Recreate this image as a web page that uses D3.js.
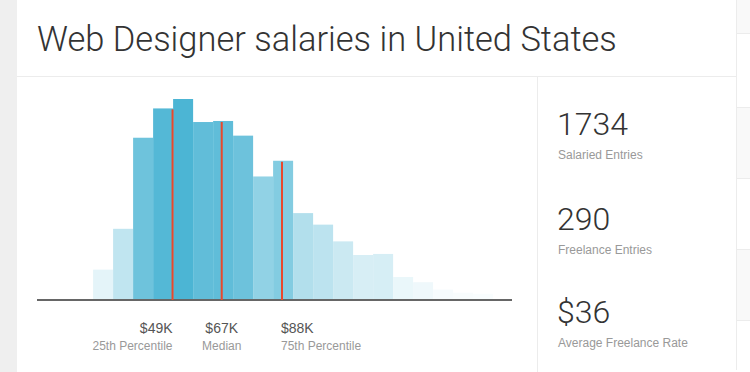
<!DOCTYPE html>
<html>
<head>
<meta charset="utf-8">
<script src="https://cdn.jsdelivr.net/npm/d3@7"></script>
<style>
  html, body { margin: 0; padding: 0; background: #fff; }
  svg { display: block; }
</style>
</head>
<body>
<svg id="chart" width="750" height="372"></svg>
<script>
// ---- data ----
const title = "Web Designer salaries in United States";
const binStartK = 20.2;          // lower edge of first salary bin ($K)
const binWidthK = 7.2;           // width of each salary bin ($K)
const counts = [29, 68, 155, 183, 192, 170, 171, 157, 118, 133, 83, 72, 56, 43, 44, 22, 17, 10, 7, 6];
const percentileValues = [48.8, 66.5, 88.2];
const percentileText = ["$49K", "$67K", "$88K"];
const percentileNames = ["25th Percentile", "Median", "75th Percentile"];
const statValues = ["1734", "290", "$36"];
const statLabels = ["Salaried Entries", "Freelance Entries", "Average Freelance Rate"];

// ---- layout chrome ----
const svg = d3.select("#chart");
const W = 750, H = 372;
svg.append("rect").attr("x", 0).attr("y", 0).attr("width", W).attr("height", H).attr("fill", "#ffffff");
svg.append("rect").attr("x", 0).attr("y", 0).attr("width", 17).attr("height", H).attr("fill", "#efefef");
// right side panels
const panels = [[0, 33, "#f9f9f9"], [33, 107, "#ffffff"], [107, 178, "#f9f9f9"], [178, 249, "#ffffff"], [249, 320, "#f9f9f9"], [320, 372, "#ffffff"]];
panels.forEach(p => {
  svg.append("rect").attr("x", 737).attr("y", p[0]).attr("width", 13).attr("height", p[1] - p[0]).attr("fill", p[2]);
});
[33, 107, 178, 249, 320].forEach(y => {
  svg.append("line").attr("x1", 737).attr("x2", 750).attr("y1", y + 0.5).attr("y2", y + 0.5).attr("stroke", "#ececec");
});
svg.append("line").attr("x1", 736.5).attr("x2", 736.5).attr("y1", 0).attr("y2", 370).attr("stroke", "#ececec");
svg.append("line").attr("x1", 17).attr("x2", 736).attr("y1", 76.5).attr("y2", 76.5).attr("stroke", "#ececec");
svg.append("line").attr("x1", 537.5).attr("x2", 537.5).attr("y1", 77).attr("y2", H).attr("stroke", "#ececec");

const thinFont = "Roboto, Lato, 'Open Sans', sans-serif";
const t = svg.append("text").attr("x", 37).attr("y", 51)
  .attr("font-family", thinFont).attr("font-weight", 300)
  .attr("font-size", 40).attr("fill", "#333").text(title);
const tl = t.node().getComputedTextLength();
t.attr("font-size", 40 * 580 / tl);

// ---- scales ----
const x = d3.scaleLinear().domain([0, 171]).range([37, 512]);
const y = d3.scaleLinear().domain([0, d3.max(counts)]).range([300, 99]);
const maxC = d3.max(counts);
const color = d3.interpolateRgb("#ffffff", "#4cb5d4");

const bins = counts.map((c, i) => ({ x0: binStartK + i * binWidthK, x1: binStartK + (i + 1) * binWidthK, c }));

svg.append("g").selectAll("rect").data(bins).join("rect")
  .attr("x", d => x(d.x0))
  .attr("width", d => x(d.x1) - x(d.x0))
  .attr("y", d => y(d.c))
  .attr("height", d => y(0) - y(d.c))
  .attr("fill", d => color(d.c / maxC));

// axis baseline
svg.append("line").attr("x1", x(0)).attr("x2", x(171)).attr("y1", y(0)).attr("y2", y(0))
  .attr("stroke", "#666").attr("stroke-width", 2);

// percentile lines
const binOf = v => bins[Math.floor((v - binStartK) / binWidthK)];
svg.append("g").selectAll("rect").data(percentileValues).join("rect")
  .attr("x", v => x(v) - 1)
  .attr("width", 2)
  .attr("y", v => y(binOf(v).c) + 1)
  .attr("height", v => y(0) - y(binOf(v).c) - 1)
  .attr("fill", "#e9482c");

// percentile labels
const anchors = ["end", "middle", "start"];
const labelFont = "'Liberation Sans', Arial, sans-serif";
percentileValues.forEach((v, i) => {
  const px = anchors[i] === "end" ? x(v) : anchors[i] === "start" ? x(v) - 1 : x(v);
  svg.append("text").attr("x", px).attr("y", 333).attr("text-anchor", anchors[i])
    .attr("font-family", labelFont).attr("font-size", 14).attr("fill", "#555").text(percentileText[i]);
  svg.append("text").attr("x", px).attr("y", 350).attr("text-anchor", anchors[i])
    .attr("font-family", labelFont).attr("font-size", 12).attr("fill", "#999").text(percentileNames[i]);
});

// stats
const statY = [135, 230, 323];
statValues.forEach((s, i) => {
  svg.append("text").attr("x", 557).attr("y", statY[i])
    .attr("font-family", thinFont).attr("font-weight", 300).attr("font-size", 32)
    .attr("fill", "#333").text(s);
  svg.append("text").attr("x", 558).attr("y", statY[i] + 24)
    .attr("font-family", labelFont).attr("font-size", 12).attr("fill", "#999").text(statLabels[i]);
});
</script>
</body>
</html>
